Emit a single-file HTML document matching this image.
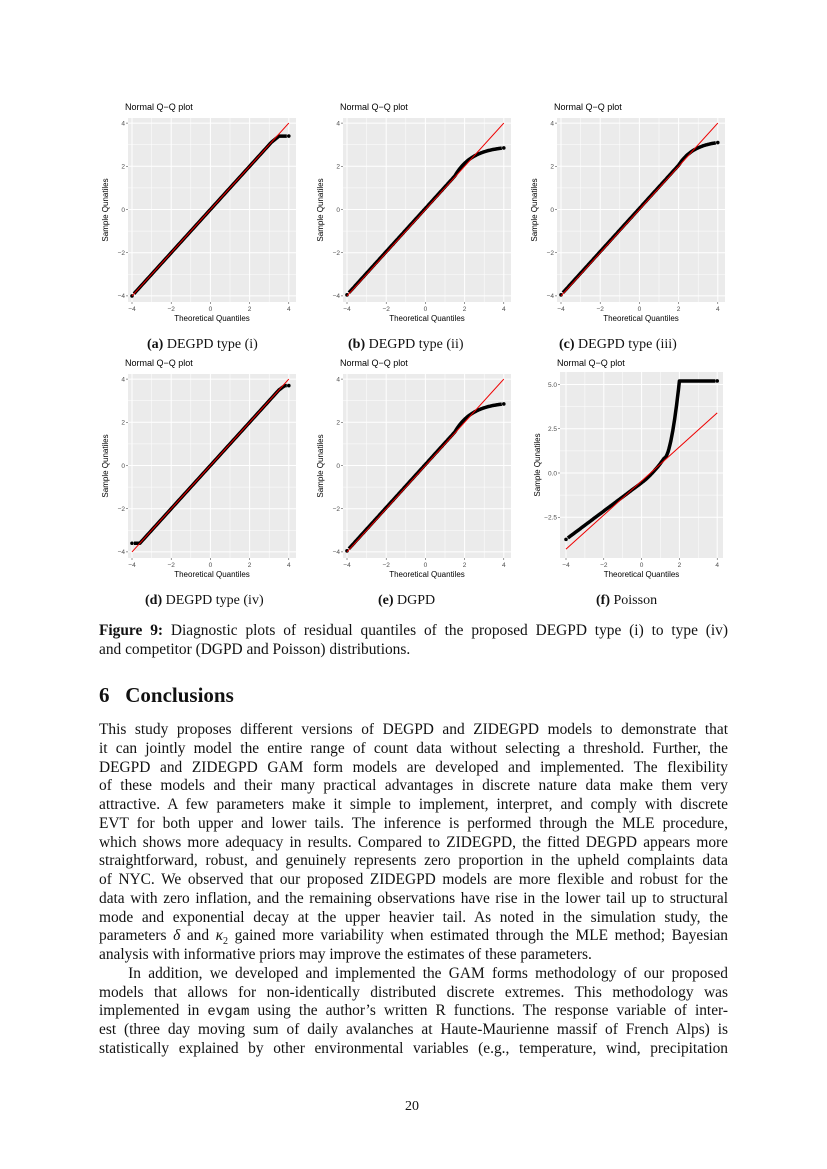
<!DOCTYPE html>
<html><head><meta charset="utf-8"><style>
body{margin:0;background:#fff;width:827px;height:1169px;position:relative;overflow:hidden}
.t{position:absolute;font-family:"Liberation Serif",serif;font-size:15.4px;line-height:15px;white-space:nowrap;color:#111}
.l{left:99px;width:629px;text-align:justify;text-align-last:justify}
.e{text-align-last:left}
svg{position:absolute;left:0;top:0}
.tt{font-family:"Liberation Mono",monospace;font-size:14px}
.c{font-size:14px}
</style></head><body>
<svg id="s" width="827" height="1169" xmlns="http://www.w3.org/2000/svg"></svg>
<div class="t c" style="left:147px;top:337px"><b>(a)</b> DEGPD type (i)</div>
<div class="t c" style="left:348px;top:337px"><b>(b)</b> DEGPD type (ii)</div>
<div class="t c" style="left:559px;top:337px"><b>(c)</b> DEGPD type (iii)</div>
<div class="t c" style="left:145px;top:593px"><b>(d)</b> DEGPD type (iv)</div>
<div class="t c" style="left:378px;top:593px"><b>(e)</b> DGPD</div>
<div class="t c" style="left:596px;top:593px"><b>(f)</b> Poisson</div>
<div class="t l" style="top:623px"><b>Figure 9:</b> Diagnostic plots of residual quantiles of the proposed DEGPD type (i) to type (iv)</div>
<div class="t l e" style="top:642px">and competitor (DGPD and Poisson) distributions.</div>
<div class="t" style="left:99px;top:685px;font-size:21px;line-height:21px;font-weight:bold">6&nbsp;&nbsp;&nbsp;Conclusions</div>
<div class="t l" style="top:722px">This study proposes different versions of DEGPD and ZIDEGPD models to demonstrate that</div>
<div class="t l" style="top:741px">it can jointly model the entire range of count data without selecting a threshold. Further, the</div>
<div class="t l" style="top:760px">DEGPD and ZIDEGPD GAM form models are developed and implemented. The flexibility</div>
<div class="t l" style="top:778px">of these models and their many practical advantages in discrete nature data make them very</div>
<div class="t l" style="top:797px">attractive. A few parameters make it simple to implement, interpret, and comply with discrete</div>
<div class="t l" style="top:816px">EVT for both upper and lower tails. The inference is performed through the MLE procedure,</div>
<div class="t l" style="top:835px">which shows more adequacy in results. Compared to ZIDEGPD, the fitted DEGPD appears more</div>
<div class="t l" style="top:853px">straightforward, robust, and genuinely represents zero proportion in the upheld complaints data</div>
<div class="t l" style="top:872px">of NYC. We observed that our proposed ZIDEGPD models are more flexible and robust for the</div>
<div class="t l" style="top:891px">data with zero inflation, and the remaining observations have rise in the lower tail up to structural</div>
<div class="t l" style="top:910px">mode and exponential decay at the upper heavier tail. As noted in the simulation study, the</div>
<div class="t l" style="top:928px">parameters <i>δ</i> and <i>κ</i><sub style="font-size:10px;line-height:0">2</sub> gained more variability when estimated through the MLE method; Bayesian</div>
<div class="t l e" style="top:947px">analysis with informative priors may improve the estimates of these parameters.</div>
<div class="t l" style="top:966px">&nbsp;&nbsp;&nbsp;&nbsp;In addition, we developed and implemented the GAM forms methodology of our proposed</div>
<div class="t l" style="top:985px">models that allows for non-identically distributed discrete extremes. This methodology was</div>
<div class="t l" style="top:1003px">implemented in <span class="tt">evgam</span> using the author’s written R functions. The response variable of inter-</div>
<div class="t l" style="top:1022px">est (three day moving sum of daily avalanches at Haute-Maurienne massif of French Alps) is</div>
<div class="t l" style="top:1041px">statistically explained by other environmental variables (e.g., temperature, wind, precipitation</div>
<div class="t c" style="left:405px;top:1099px">20</div>
<script>
var s=document.getElementById('s'),h='';
function txt(x,y,t,sz,col,anc,rot){h+='<text x="'+x+'" y="'+y+'" font-family="Liberation Sans,sans-serif" font-size="'+sz+'" fill="'+col+'" text-anchor="'+(anc||'start')+'"'+(rot?' transform="rotate(-90 '+x+' '+y+')"':'')+'>'+t+'</text>';}
function panel(px,py,pw,ph,X,Y,yt,ylab,f,top,red){
 h+='<rect x="'+px+'" y="'+py+'" width="'+pw+'" height="'+ph+'" fill="#ebebeb"/>';
 [-3,-1,1,3].forEach(function(v){h+='<line x1="'+X(v)+'" x2="'+X(v)+'" y1="'+py+'" y2="'+(py+ph)+'" stroke="#fff" stroke-width="0.5"/>';});
 [-4,-2,0,2,4].forEach(function(v){h+='<line x1="'+X(v)+'" x2="'+X(v)+'" y1="'+py+'" y2="'+(py+ph)+'" stroke="#fff" stroke-width="1"/>';
  h+='<line x1="'+X(v)+'" x2="'+X(v)+'" y1="'+(py+ph)+'" y2="'+(py+ph+2)+'" stroke="#333" stroke-width="0.5"/>';
  txt(X(v),py+ph+9,v<0?'−'+(-v):v,6.5,'#4d4d4d','middle');});
 for(var i=0;i<yt.length;i++){var v=yt[i];h+='<line x1="'+px+'" x2="'+(px+pw)+'" y1="'+Y(v)+'" y2="'+Y(v)+'" stroke="#fff" stroke-width="1"/>';
  if(i<yt.length-1){var m=(v+yt[i+1])/2;h+='<line x1="'+px+'" x2="'+(px+pw)+'" y1="'+Y(m)+'" y2="'+Y(m)+'" stroke="#fff" stroke-width="0.5"/>';}
  h+='<line x1="'+(px-2)+'" x2="'+px+'" y1="'+Y(v)+'" y2="'+Y(v)+'" stroke="#333" stroke-width="0.5"/>';
  txt(px-3,Y(v)+2.3,ylab[i],6.5,'#4d4d4d','end');}
 var pts=[];for(var x=-3.9;x<=3.9;x+=0.05)pts.push(X(x).toFixed(1)+','+Y(f(x)).toFixed(1));
 h+='<polyline points="'+pts.join(' ')+'" fill="none" stroke="#000" stroke-width="3.5" stroke-linejoin="round"/>';
 h+='<circle cx="'+X(-4)+'" cy="'+Y(f(-4))+'" r="1.8"/><circle cx="'+X(4)+'" cy="'+Y(f(4))+'" r="1.8"/>';
 h+='<line x1="'+X(red[0])+'" y1="'+Y(red[1])+'" x2="'+X(red[2])+'" y2="'+Y(red[3])+'" stroke="#e00" stroke-width="1"/>';
 txt(px-3,top,'Normal Q−Q plot',9,'#000','start');
 txt(px+pw/2,py+ph+19,'Theoretical Quantiles',8,'#000','middle');
 txt(px-20,py+ph/2,'Sample Qunatiles',8,'#000','middle',1);
}
function sat(x,x0,y0,y1,k){return x<x0?x+0.05:y0+(y1-y0)*(1-Math.exp(-(x-x0)*k))/(1-Math.exp(-(4-x0)*k));}
var fs=[
 function(x){return x<3.1?x:3.1+(3.4-3.1)*Math.min(1,(x-3.1)/0.4);},
 function(x){return sat(x,1.5,1.55,2.85,1.1);},
 function(x){return sat(x,2,2.05,3.1,1.2);},
 function(x){return x<-3.6?-3.6:(x<3.5?x:3.5+0.2*Math.min(1,(x-3.5)/0.3));},
 function(x){return sat(x,1.5,1.55,2.85,1.1);}
];
var cols=[0,215,429],k=0;
for(var r=0;r<2;r++)for(var c=0;c<3;c++){
 if(r==1&&c==2)break;
 (function(dx,dy,f){
  panel(128+dx,118+dy,168,184,function(x){return 132+dx+(x+4)*19.6;},function(y){return 209.5+dy-y*21.6;},[-4,-2,0,2,4],['−4','−2','0','2','4'],f,110+dy,[-4,-4,4,4]);
 })(cols[c],r*256,fs[k++]);
}
var fp=function(x){if(x<=1.2)return -0.55+0.8*x+(x>0?0.3*x*x:0); var y12=-0.55+0.96+0.432; if(x<2)return y12+(5.2-y12)*Math.pow((x-1.2)/0.8,1.8); return 5.2;};
panel(560,372,163,186,function(x){return 566+(x+4)*18.9;},function(y){return 473-y*17.7;},[-2.5,0,2.5,5],['−2.5','0.0','2.5','5.0'],fp,366,[-4,-4.3,4,3.4]);
s.innerHTML=h;
</script>
</body></html>
